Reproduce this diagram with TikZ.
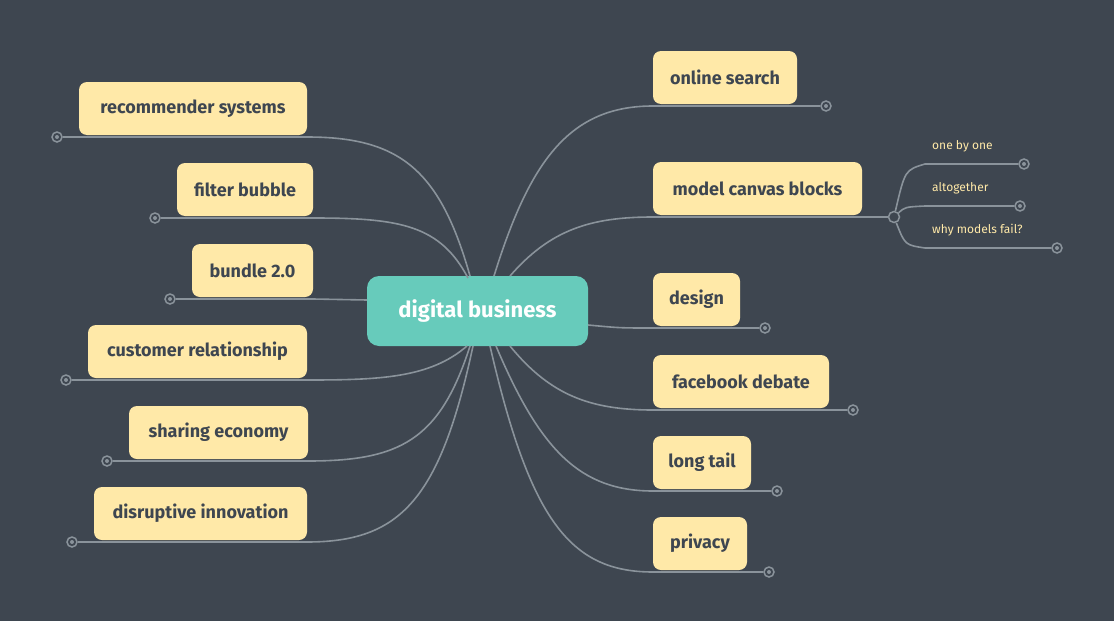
\documentclass[tikz,border=0pt]{standalone}
\usepackage{fontspec}
\setmainfont{Fira Sans}
\definecolor{bg}{HTML}{3E4650}
\definecolor{boxc}{HTML}{FFE9A8}
\definecolor{cen}{HTML}{67CBBB}
\definecolor{ln}{HTML}{8A939B}
\tikzset{x=1pt,y=-1pt,
 topic/.style={fill=boxc,rounded corners=8pt,text=bg,font=\fontsize{18}{20}\selectfont\bfseries,minimum height=53pt,inner sep=0pt},
 conn/.style={draw=ln,line width=1.6pt},
 endc/.style={circle,draw=ln,line width=1.5pt,fill=bg,minimum size=10pt,inner sep=0pt,path picture={\fill[ln] (path picture bounding box.center) circle (2pt);}},
 sub/.style={text=boxc,font=\fontsize{12}{14}\selectfont,anchor=west,inner sep=0pt}}
\begin{document}
\begin{tikzpicture}
\fill[bg] (0,0) rectangle (1114,621);
\useasboundingbox (0,0) rectangle (1114,621);
% center
\node[fill=cen,rounded corners=12pt,text=white,font=\fontsize{22}{24}\selectfont\bfseries,minimum width=221pt,minimum height=70pt] (c) at (477.5,311) {digital business};
% left topics
\node[topic,minimum width=228pt] (rs) at (193,108.5) {recommender systems};
\node[topic,minimum width=136pt] (fb) at (245,189.5) {filter bubble};
\node[topic,minimum width=121pt] (bu) at (252.5,270.5) {bundle 2.0};
\node[topic,minimum width=219pt] (cr) at (197.5,351.5) {customer relationship};
\node[topic,minimum width=179pt] (se) at (218.5,432.5) {sharing economy};
\node[topic,minimum width=213pt] (di) at (200.5,513.5) {disruptive innovation};
% right topics
\node[topic,minimum width=144pt] (os) at (725,77.5) {online search};
\node[topic,minimum width=209pt] (mc) at (757.5,188.5) {model canvas blocks};
\node[topic,minimum width=87pt] (de) at (696.5,299.5) {design};
\node[topic,minimum width=176pt] (fd) at (741,381.5) {facebook debate};
\node[topic,minimum width=98pt] (lt) at (702,462.5) {long tail};
\node[topic,minimum width=94pt] (pr) at (700,543.5) {privacy};
% end markers
\node[endc] (ers) at (57,137) {};
\node[endc] (efb) at (155,218) {};
\node[endc] (ebu) at (170,299) {};
\node[endc] (ecr) at (66,380) {};
\node[endc] (ese) at (107,461) {};
\node[endc] (edi) at (72,542) {};
\node[endc] (eos) at (826,106) {};
\node[circle,draw=ln,line width=1.5pt,fill=bg,minimum size=11pt,inner sep=0pt] (emc) at (894,217) {};
\node[endc] (ede) at (765,328) {};
\node[endc] (efd) at (853,410) {};
\node[endc] (elt) at (777,491) {};
\node[endc] (epr) at (769,572) {};
\node[endc] (e1) at (1024,164) {};
\node[endc] (e2) at (1020,206) {};
\node[endc] (e3) at (1057,248) {};
\node[sub] (s1) at (932,146) {one by one};
\node[sub] (s2) at (932,188) {altogether};
\node[sub] (s3) at (932,230) {why models fail?};
% left connectors
\draw[conn] (470,276) .. controls (440,170) and (400,137) .. (307,137) -- (ers);
\draw[conn] (468,278) .. controls (440,225) and (400,218) .. (313,218) -- (efb);
\draw[conn] (367,300) .. controls (340,299) .. (313,299) -- (ebu);
\draw[conn] (467,346) .. controls (430,378) and (380,380) .. (307,380) -- (ecr);
\draw[conn] (470,346) .. controls (440,440) and (400,461) .. (308,461) -- (ese);
\draw[conn] (473,346) .. controls (440,500) and (400,542) .. (307,542) -- (edi);
% right connectors
\draw[conn] (494,276) .. controls (530,160) and (570,106) .. (653,106) -- (eos);
\draw[conn] (510,276) .. controls (550,230) and (590,217) .. (653,217) -- (emc);
\draw[conn] (588,325) .. controls (620,328) .. (653,328) -- (ede);
\draw[conn] (510,346) .. controls (550,395) and (590,410) .. (653,410) -- (efd);
\draw[conn] (496,346) .. controls (540,450) and (580,491) .. (653,491) -- (elt);
\draw[conn] (490,346) .. controls (530,520) and (570,572) .. (653,572) -- (epr);
% sub branches
\draw[conn] (emc) .. controls (905,170) .. (925,164) -- (e1);
\draw[conn] (emc) .. controls (905,207) .. (925,206) -- (e2);
\draw[conn] (emc) .. controls (905,245) .. (925,248) -- (e3);
\end{tikzpicture}
\end{document}
